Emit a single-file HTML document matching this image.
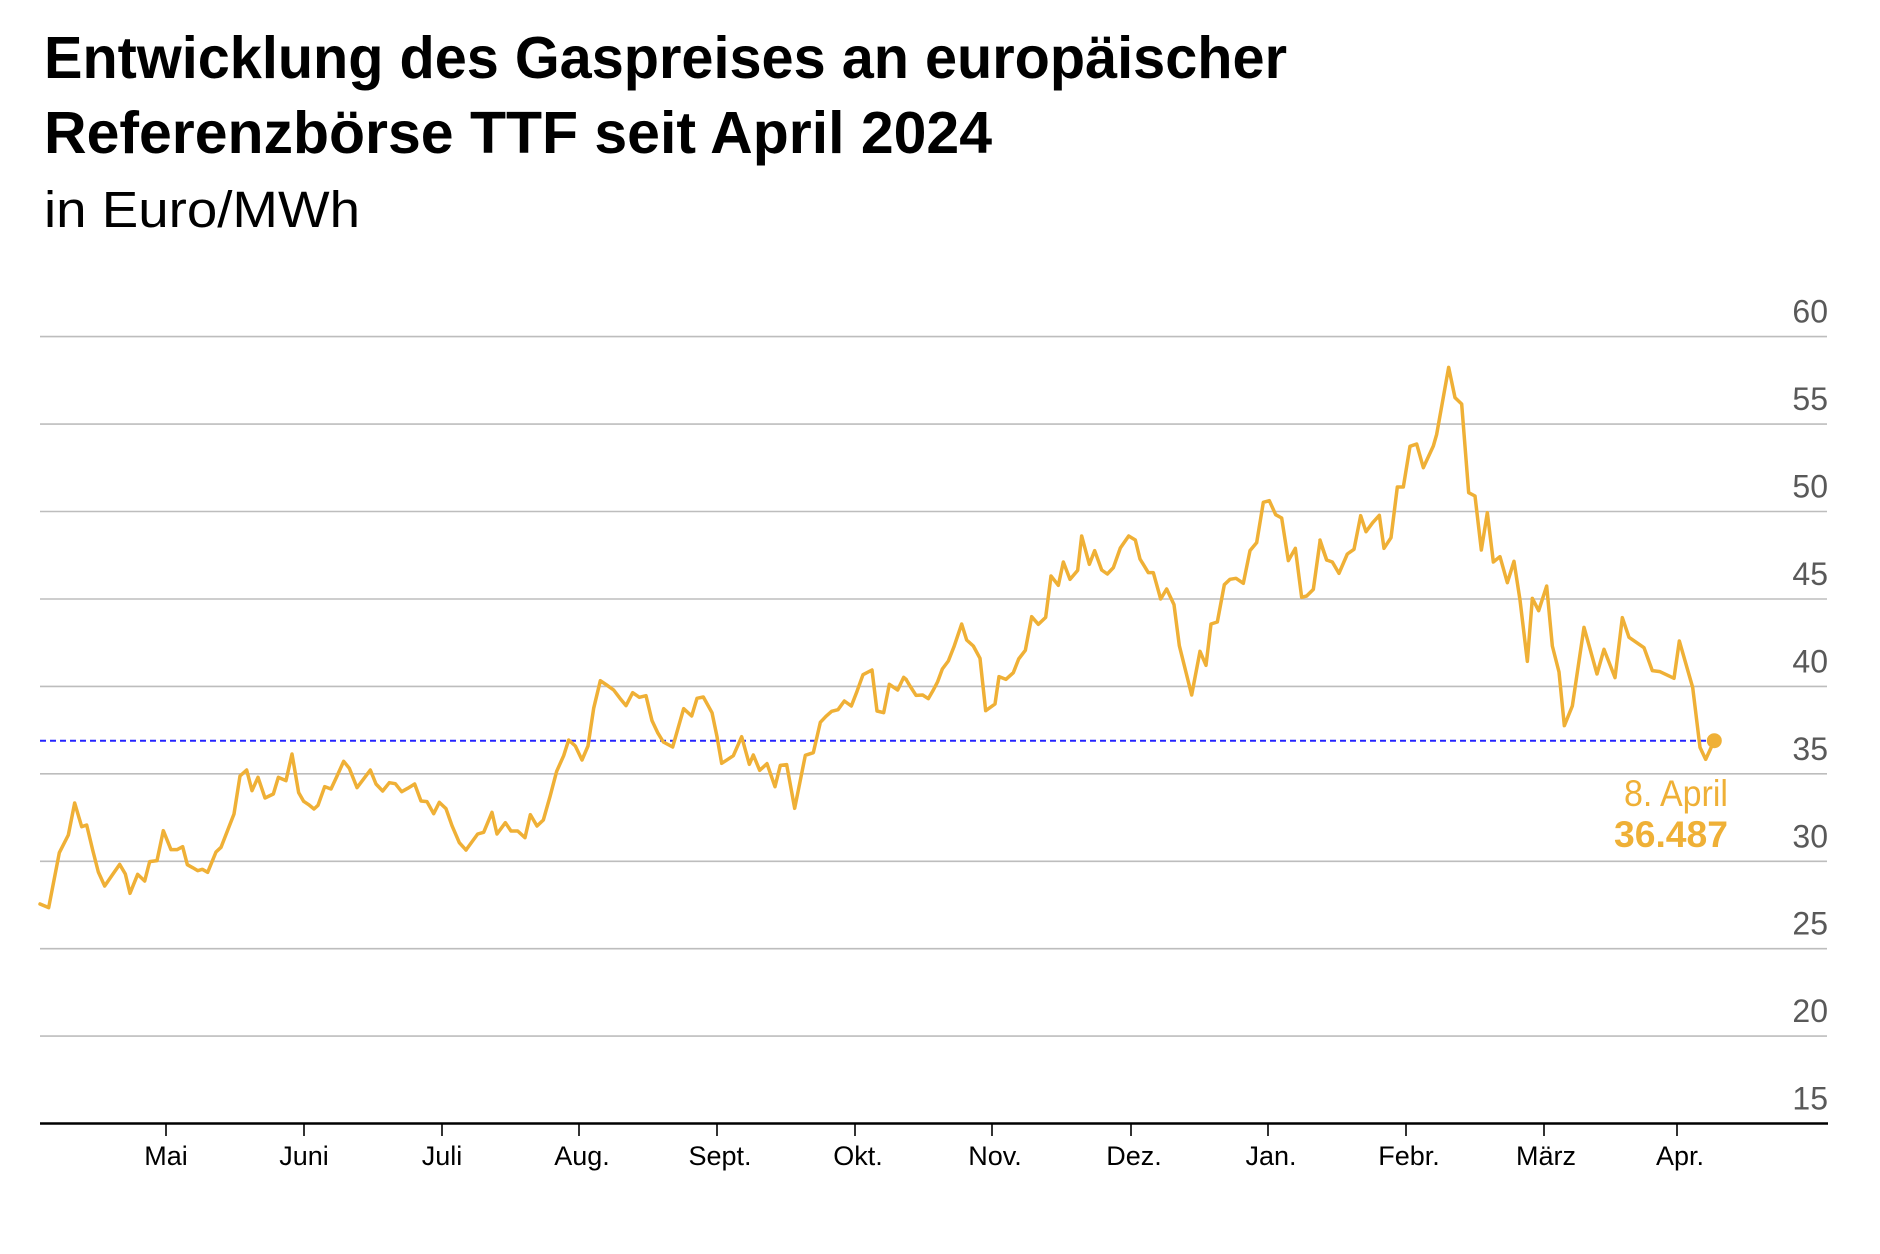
<!DOCTYPE html>
<html>
<head>
<meta charset="utf-8">
<style>
  html, body { margin: 0; padding: 0; background: #ffffff; }
  svg { display: block; }
  text { font-family: "Liberation Sans", "DejaVu Sans", sans-serif; }
</style>
</head>
<body>
<svg width="1880" height="1254" viewBox="0 0 1880 1254" xmlns="http://www.w3.org/2000/svg">
  <rect x="0" y="0" width="1880" height="1254" fill="#ffffff"/>

  <!-- Title -->
  <text x="44" y="78" font-size="59" font-weight="bold" fill="#000" textLength="1243" lengthAdjust="spacingAndGlyphs">Entwicklung des Gaspreises an europäischer</text>
  <text x="44" y="153" font-size="59" font-weight="bold" fill="#000" textLength="948" lengthAdjust="spacingAndGlyphs">Referenzbörse TTF seit April 2024</text>
  <text x="44" y="227" font-size="51" fill="#000" textLength="316" lengthAdjust="spacingAndGlyphs">in Euro/MWh</text>

  <!-- Gridlines -->
  <g stroke="#bdbdbd" stroke-width="1.6">
    <line x1="40" y1="336.6" x2="1827" y2="336.6"/>
    <line x1="40" y1="424.1" x2="1827" y2="424.1"/>
    <line x1="40" y1="511.5" x2="1827" y2="511.5"/>
    <line x1="40" y1="599" x2="1827" y2="599"/>
    <line x1="40" y1="686.4" x2="1827" y2="686.4"/>
    <line x1="40" y1="773.8" x2="1827" y2="773.8"/>
    <line x1="40" y1="861.3" x2="1827" y2="861.3"/>
    <line x1="40" y1="948.7" x2="1827" y2="948.7"/>
    <line x1="40" y1="1036.1" x2="1827" y2="1036.1"/>
  </g>

  <!-- Y labels -->
  <g font-size="32" fill="#595959" text-anchor="end">
    <text x="1828" y="322.6">60</text>
    <text x="1828" y="410.1">55</text>
    <text x="1828" y="497.5">50</text>
    <text x="1828" y="585">45</text>
    <text x="1828" y="672.4">40</text>
    <text x="1828" y="759.8">35</text>
    <text x="1828" y="847.3">30</text>
    <text x="1828" y="934.7">25</text>
    <text x="1828" y="1022.1">20</text>
    <text x="1828" y="1109.5">15</text>
  </g>

  <!-- X axis -->
  <line x1="40" y1="1123.5" x2="1828" y2="1123.5" stroke="#000" stroke-width="2.5"/>
  <g stroke="#000" stroke-width="1.6">
    <line x1="166" y1="1123.5" x2="166" y2="1136"/>
    <line x1="304" y1="1123.5" x2="304" y2="1136"/>
    <line x1="442" y1="1123.5" x2="442" y2="1136"/>
    <line x1="579" y1="1123.5" x2="579" y2="1136"/>
    <line x1="717" y1="1123.5" x2="717" y2="1136"/>
    <line x1="855" y1="1123.5" x2="855" y2="1136"/>
    <line x1="992" y1="1123.5" x2="992" y2="1136"/>
    <line x1="1131" y1="1123.5" x2="1131" y2="1136"/>
    <line x1="1268" y1="1123.5" x2="1268" y2="1136"/>
    <line x1="1406" y1="1123.5" x2="1406" y2="1136"/>
    <line x1="1544" y1="1123.5" x2="1544" y2="1136"/>
    <line x1="1677" y1="1123.5" x2="1677" y2="1136"/>
  </g>
  <g font-size="27" fill="#000" text-anchor="middle">
    <text x="166" y="1165">Mai</text>
    <text x="304" y="1165">Juni</text>
    <text x="442" y="1165">Juli</text>
    <text x="582" y="1165">Aug.</text>
    <text x="720" y="1165">Sept.</text>
    <text x="858" y="1165">Okt.</text>
    <text x="995" y="1165">Nov.</text>
    <text x="1134" y="1165">Dez.</text>
    <text x="1271" y="1165">Jan.</text>
    <text x="1409" y="1165">Febr.</text>
    <text x="1546" y="1165">März</text>
    <text x="1680" y="1165">Apr.</text>
  </g>

  <!-- Dashed reference line -->
  <line x1="40" y1="740.7" x2="1714" y2="740.7" stroke="#2424ff" stroke-width="2" stroke-dasharray="6 4"/>

  <!-- Series -->
  <g fill="none" stroke="#EFB036" stroke-width="3.5" stroke-linejoin="round" stroke-linecap="round">
    <polyline transform="translate(36,720) scale(0.333333)" vector-effect="non-scaling-stroke" points="12,552 38,563 70,398 97,345 116,249 137,320 152,315 170,390 187,456 206,498 228,466 251,433 268,462 282,520 305,463 326,483 341,425 363,422 382,332 405,389 423,389 440,380 454,434 470,443 485,452 499,448 515,457 540,396 555,382 576,328 594,282 612,168 632,150 648,212 666,172 687,234 712,222 727,172 750,182 768,102 788,218 803,244 818,254 834,267 846,256 866,200 885,207 904,166 923,124 940,145 963,203 982,178 1003,150 1020,192 1040,213 1060,188 1078,191 1097,215 1115,205 1136,192 1155,243 1173,245 1193,281 1210,247 1230,266 1248,317 1270,368 1290,390"/>
    <polyline transform="translate(466,640) scale(0.333333)" vector-effect="non-scaling-stroke" points="0,630 35,582 53,577 78,517 93,582 118,548 135,573 155,573 177,593 193,524 213,558 232,540 252,470 272,394 293,347 308,300 328,318 348,360 366,318 383,205 403,122 422,135 443,150 462,175 480,197 500,158 520,172 540,167 558,242 575,278 592,306 620,321 653,206 677,228 693,175 712,171 738,218 753,290 767,370 784,359 802,347 827,290 850,373 862,345 881,391 903,371 927,440 943,376 962,374 986,505 1018,346 1042,338 1063,247 1080,229 1097,214 1116,209 1135,183 1156,198 1173,154 1191,104 1218,90 1233,213 1253,218 1270,133 1295,150 1313,112 1320,118"/>
    <polyline transform="translate(900,480) scale(0.333333)" vector-effect="non-scaling-stroke" points="18,598 30,618 48,646 68,645 85,656 100,630 113,605 127,567 145,543 162,500 185,432 200,480 220,498 240,535 257,692 285,672 297,590 318,598 340,578 356,537 376,511 395,410 415,433 437,412 453,288 475,316 490,246 510,298 533,271 545,168 568,253 584,212 605,270 622,282 640,263 661,204 686,168 706,180 720,237 745,278 760,278 782,357 800,327 822,374 838,497 875,645 900,514 918,556 933,432 952,426 973,314 990,298 1008,295 1030,310 1050,212 1070,188 1090,67 1108,62 1127,104 1145,114 1165,242 1186,205 1205,352 1220,348 1240,328 1260,184 1280,240"/>
    <polyline transform="translate(1320,350) scale(0.333333)" vector-effect="non-scaling-stroke" points="0,570 20,630 37,636 57,670 82,612 102,598 122,497 138,545 158,518 178,496 192,595 213,563 232,411 250,411 270,289 290,282 310,353 340,288 350,253 386,52 405,143 425,162 446,428 465,438 484,600 502,488 520,636 540,620 562,698 582,634 600,750 622,934 637,745 656,782 680,708 697,888 717,966 733,1127 757,1068 792,832 831,972 852,898 885,983 907,803 927,862 972,893 997,962 1020,965 1062,985 1078,873 1118,1012 1140,1192 1157,1228 1183,1172"/>
  </g>
  <circle cx="1714.3" cy="740.7" r="7.5" fill="#EFB036"/>

  <!-- Annotation -->
  <text x="1728" y="806" font-size="37" fill="#EFB036" text-anchor="end" textLength="104" lengthAdjust="spacingAndGlyphs">8. April</text>
  <text x="1728" y="847" font-size="37" font-weight="bold" fill="#EFB036" text-anchor="end" textLength="114" lengthAdjust="spacingAndGlyphs">36.487</text>
</svg>
</body>
</html>
